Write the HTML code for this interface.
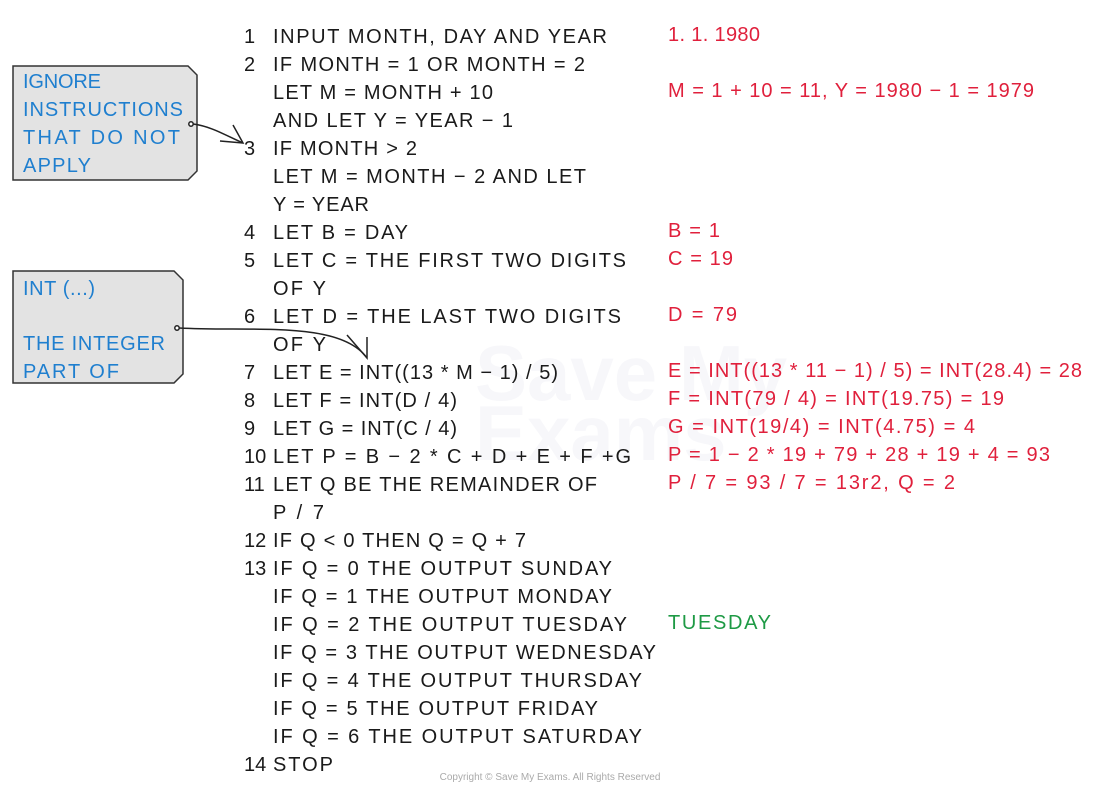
<!DOCTYPE html>
<html><head><meta charset="utf-8"><style>
html,body{margin:0;padding:0;background:#fff;}
svg{display:block}
text{font-family:"Liberation Sans",sans-serif;font-size:20px;}
.k{fill:#1a1a1a}.r{fill:#e0203c}.b{fill:#1f7fcf}.g{fill:#1e9a45}
</style></head><body>
<svg width="1100" height="789" viewBox="0 0 1100 789" xmlns="http://www.w3.org/2000/svg">
<text x="475" y="400" style="font-size:78px;font-weight:bold;fill:#f7f7fa">Save My</text>
<text x="475" y="460" style="font-size:78px;font-weight:bold;fill:#f7f7fa">Exams</text>
<!-- boxes -->
<path d="M13,66 H188 L197,75 V171 L188,180 H13 Z" fill="#e3e3e3" stroke="#333" stroke-width="1.5"/>
<path d="M13,271 H174 L183,280 V374 L174,383 H13 Z" fill="#e3e3e3" stroke="#333" stroke-width="1.5"/>
<g class="b">
<text x="23" y="88" textLength="78" lengthAdjust="spacing">IGNORE</text>
<text x="23" y="116" textLength="160" lengthAdjust="spacing">INSTRUCTIONS</text>
<text x="23" y="144" textLength="157" lengthAdjust="spacing">THAT DO NOT</text>
<text x="23" y="172" textLength="68" lengthAdjust="spacing">APPLY</text>
<text x="23" y="295" textLength="72" lengthAdjust="spacing">INT (...)</text>
<text x="23" y="350" textLength="142" lengthAdjust="spacing">THE INTEGER</text>
<text x="23" y="378" textLength="96" lengthAdjust="spacing">PART OF</text>
</g>
<!-- connectors -->
<g fill="none" stroke="#222" stroke-width="1.5">
<circle cx="191" cy="124" r="2.2" fill="#fff"/>
<path d="M193,124 C210,126 225,135 243,143"/>
<path d="M233,125 L243,143 L220,141"/>
<circle cx="177" cy="328" r="2.2" fill="#fff"/>
<path d="M179,328 C250,332 340,320 367,358"/>
<path d="M347,335 L367,358 L367,337"/>
</g>
<g class="k">
<text x="244" y="43">1</text><text x="273" y="43" textLength="334" lengthAdjust="spacing">INPUT MONTH, DAY AND YEAR</text>
<text x="244" y="71">2</text><text x="273" y="71" textLength="312" lengthAdjust="spacing">IF MONTH = 1 OR MONTH = 2</text>
<text x="273" y="99" textLength="220" lengthAdjust="spacing">LET M = MONTH + 10</text>
<text x="273" y="127" textLength="240" lengthAdjust="spacing">AND LET Y = YEAR − 1</text>
<text x="244" y="155">3</text><text x="273" y="155" textLength="144" lengthAdjust="spacing">IF MONTH &gt; 2</text>
<text x="273" y="183" textLength="313" lengthAdjust="spacing">LET M = MONTH − 2 AND LET</text>
<text x="273" y="211" textLength="96" lengthAdjust="spacing">Y = YEAR</text>
<text x="244" y="239">4</text><text x="273" y="239" textLength="135" lengthAdjust="spacing">LET B = DAY</text>
<text x="244" y="267">5</text><text x="273" y="267" textLength="353" lengthAdjust="spacing">LET C = THE FIRST TWO DIGITS</text>
<text x="273" y="295" textLength="53" lengthAdjust="spacing">OF Y</text>
<text x="244" y="323">6</text><text x="273" y="323" textLength="348" lengthAdjust="spacing">LET D = THE LAST TWO DIGITS</text>
<text x="273" y="351" textLength="53" lengthAdjust="spacing">OF Y</text>
<text x="244" y="379">7</text><text x="273" y="379" textLength="285" lengthAdjust="spacing">LET E = INT((13 * M − 1) / 5)</text>
<text x="244" y="407">8</text><text x="273" y="407" textLength="184" lengthAdjust="spacing">LET F = INT(D / 4)</text>
<text x="244" y="435">9</text><text x="273" y="435" textLength="184" lengthAdjust="spacing">LET G = INT(C / 4)</text>
<text x="244" y="463">10</text><text x="273" y="463" textLength="358" lengthAdjust="spacing">LET P = B − 2 * C + D + E + F +G</text>
<text x="244" y="491">11</text><text x="273" y="491" textLength="324" lengthAdjust="spacing">LET Q BE THE REMAINDER OF</text>
<text x="273" y="519" textLength="51" lengthAdjust="spacing">P / 7</text>
<text x="244" y="547">12</text><text x="273" y="547" textLength="253" lengthAdjust="spacing">IF Q &lt; 0 THEN Q = Q + 7</text>
<text x="244" y="575">13</text><text x="273" y="575" textLength="339" lengthAdjust="spacing">IF Q = 0 THE OUTPUT SUNDAY</text>
<text x="273" y="603" textLength="339" lengthAdjust="spacing">IF Q = 1 THE OUTPUT MONDAY</text>
<text x="273" y="631" textLength="354" lengthAdjust="spacing">IF Q = 2 THE OUTPUT TUESDAY</text>
<text x="273" y="659" textLength="383" lengthAdjust="spacing">IF Q = 3 THE OUTPUT WEDNESDAY</text>
<text x="273" y="687" textLength="369" lengthAdjust="spacing">IF Q = 4 THE OUTPUT THURSDAY</text>
<text x="273" y="715" textLength="325" lengthAdjust="spacing">IF Q = 5 THE OUTPUT FRIDAY</text>
<text x="273" y="743" textLength="369" lengthAdjust="spacing">IF Q = 6 THE OUTPUT SATURDAY</text>
<text x="244" y="771">14</text><text x="273" y="771" textLength="60" lengthAdjust="spacing">STOP</text>
</g>
<g class="r">
<text x="668" y="41" textLength="92" lengthAdjust="spacing">1. 1. 1980</text>
<text x="668" y="97" textLength="366" lengthAdjust="spacing">M = 1 + 10 = 11, Y = 1980 − 1 = 1979</text>
<text x="668" y="237" textLength="52" lengthAdjust="spacing">B = 1</text>
<text x="668" y="265" textLength="65" lengthAdjust="spacing">C = 19</text>
<text x="668" y="321" textLength="69" lengthAdjust="spacing">D = 79</text>
<text x="668" y="377" textLength="414" lengthAdjust="spacing">E = INT((13 * 11 − 1) / 5) = INT(28.4) = 28</text>
<text x="668" y="405" textLength="336" lengthAdjust="spacing">F = INT(79 / 4) = INT(19.75) = 19</text>
<text x="668" y="433" textLength="307" lengthAdjust="spacing">G = INT(19/4) = INT(4.75) = 4</text>
<text x="668" y="461" textLength="382" lengthAdjust="spacing">P = 1 − 2 * 19 + 79 + 28 + 19 + 4 = 93</text>
<text x="668" y="489" textLength="287" lengthAdjust="spacing">P / 7 = 93 / 7 = 13r2, Q = 2</text>
</g>
<text class="g" x="668" y="629" textLength="103" lengthAdjust="spacing">TUESDAY</text>
<text x="550" y="780" text-anchor="middle" style="font-size:10px;fill:#aaa">Copyright © Save My Exams. All Rights Reserved</text>
</svg>
</body></html>
